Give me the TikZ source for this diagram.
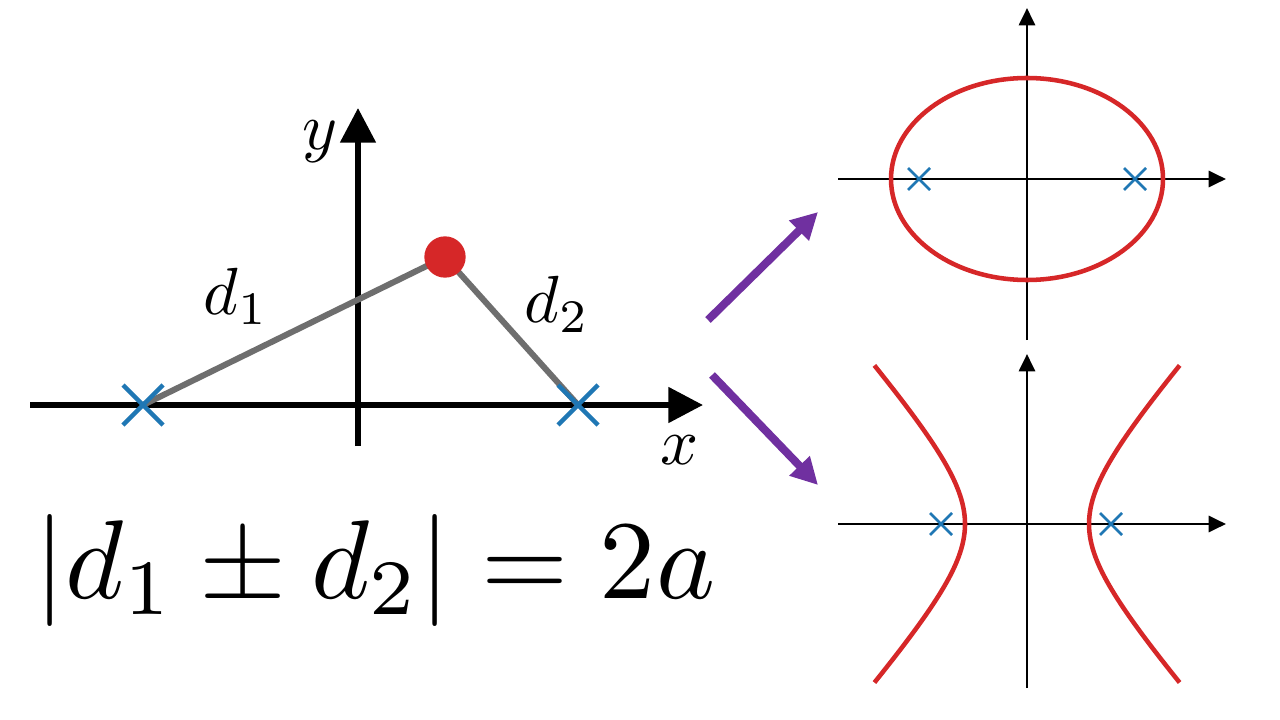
\documentclass[tikz,border=0pt]{standalone}
\usetikzlibrary{arrows.meta,calc}
\definecolor{myred}{RGB}{214,39,40}
\definecolor{myblue}{RGB}{31,119,180}
\definecolor{mypurple}{RGB}{112,48,160}
\definecolor{mygray}{RGB}{110,110,110}
\begin{document}
\begin{tikzpicture}[x=0.75pt,y=-0.75pt,
  axis/.style={line width=4.5pt,-{Triangle[length=26pt,width=26pt]}},
  saxis/.style={line width=2.2pt,-{Triangle[length=13pt,width=12pt]}},
  seg/.style={line width=4.5pt,draw=mygray},
  bcross/.style={line width=3.4pt,draw=myblue},
  scross/.style={line width=2pt,draw=myblue},
  curve/.style={line width=3.4pt,draw=myred},
  parrow/.style={line width=6pt,draw=mypurple,-{Triangle[length=20pt,width=20pt]}},
  lab/.style={scale=5.0}]
\useasboundingbox (0,0) rectangle (1280,720);
\fill[white] (0,0) rectangle (1280,720);
% left axes
\coordinate (xs) at (30,405); \coordinate (xe) at (703,405);
\coordinate (ys) at (358,446); \coordinate (ye) at (358,108);
\draw[axis] (xs) -- (xe);
\draw[axis] (ys) -- (ye);
\coordinate (f1) at (143,405); \coordinate (f2) at (578,405);
\node[circle,inner sep=0pt,minimum size=31pt] (p) at (445,257) {};
\draw[seg] (f1) -- (p.center) -- (f2);
\fill[myred] (p.center) circle (15.5pt);
\foreach \c in {f1,f2}{\draw[bcross] ($(\c)+(-20,-20)$) -- ($(\c)+(20,20)$) ($(\c)+(-20,20)$) -- ($(\c)+(20,-20)$);}
\node[lab,inner sep=0pt] (l1) at (236,296) {$d_1$};
\node[lab,inner sep=0pt] (l2) at (557,304) {$d_2$};
\node[lab,inner sep=0pt] (ly) at (320,142) {$y$};
\node[lab,inner sep=0pt] (lx) at (680,450) {$x$};
\node[scale=8.4,inner sep=0pt] (eq) at (375,570) {$|d_1\pm d_2|=2a$};
% purple arrows
\coordinate (a1) at (708,320); \coordinate (a1e) at (818,212);
\coordinate (a2) at (712,375); \coordinate (a2e) at (818,485);
\draw[parrow] (a1) -- (a1e);
\draw[parrow] (a2) -- (a2e);
% ellipse panel
\coordinate (ex1) at (838,179); \coordinate (ex2) at (1226,179);
\coordinate (ey1) at (1027,340); \coordinate (ey2) at (1027,8);
\draw[saxis] (ex1) -- (ex2);
\draw[saxis] (ey1) -- (ey2);
\draw[curve] (1027,179) ellipse [x radius=136, y radius=101];
\foreach \x in {919,1135}{\draw[scross] (\x-11,168) -- (\x+11,190) (\x-11,190) -- (\x+11,168);}
% hyperbola panel
\coordinate (hx1) at (838,524); \coordinate (hx2) at (1226,524);
\coordinate (hy1) at (1027,688); \coordinate (hy2) at (1027,354);
\draw[saxis] (hx1) -- (hx2);
\draw[saxis] (hy1) -- (hy2);
\draw[curve] plot[domain=-1.55:1.55,samples=60,smooth] ({1027-62*cosh(\x)},{524+70.5*sinh(\x)});
\draw[curve] plot[domain=-1.55:1.55,samples=60,smooth] ({1027+62*cosh(\x)},{524+70.5*sinh(\x)});
\foreach \x in {941,1111}{\draw[scross] (\x-11,513) -- (\x+11,535) (\x-11,535) -- (\x+11,513);}
\end{tikzpicture}
\end{document}
